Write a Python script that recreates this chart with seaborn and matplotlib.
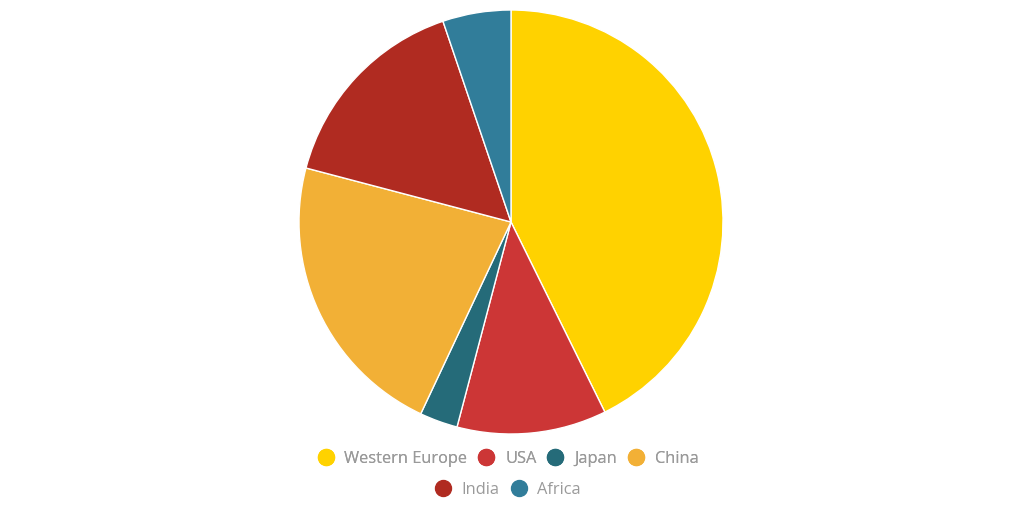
import matplotlib

matplotlib.use("Agg")
import matplotlib.pyplot as plt
import seaborn as sns
from matplotlib.lines import Line2D

regions = ["Western Europe", "USA", "Japan", "China", "India", "Africa"]
shares = [42.7, 11.4, 2.9, 22.1, 15.7, 5.2]
colors = ["#FFD200", "#CC3636", "#256B79", "#F2B036", "#B02B21", "#317D9A"]


def main() -> None:
    sns.set_theme(style="white")
    plt.rcParams["font.family"] = ["Open Sans", "DejaVu Sans"]

    fig = plt.figure(figsize=(10.24, 5.12), dpi=100)
    # pie centre ~ (511, 222) px, radius ~ 212 px
    ax = fig.add_axes([(511 - 212) / 1024, (290 - 212) / 512, 424 / 1024, 424 / 512])
    ax.pie(
        shares,
        colors=colors,
        startangle=90,
        counterclock=False,
        radius=1.0,
        wedgeprops={"edgecolor": "white", "linewidth": 1.0},
    )
    ax.set_xlim(-1.0, 1.0)
    ax.set_ylim(-1.0, 1.0)
    ax.set_aspect("equal")
    ax.axis("off")

    handles = [
        Line2D([0], [0], marker="o", linestyle="none", markersize=11.5,
               markerfacecolor=c, markeredgecolor=c)
        for c in colors
    ]
    legendStyle = dict(
        frameon=False,
        fontsize=11.8,
        labelcolor="#9a9a9a",
        handletextpad=0.55,
        columnspacing=0.55,
        handlelength=1.2,
        borderpad=0,
    )
    first = fig.legend(handles[:4], regions[:4], loc="center",
                       bbox_to_anchor=(507 / 1024, 1 - 459 / 512), ncol=4, **legendStyle)
    fig.add_artist(first)
    fig.legend(handles[4:], regions[4:], loc="center",
               bbox_to_anchor=(507 / 1024, 1 - 490 / 512), ncol=2, **legendStyle)

    fig.savefig("out.png", dpi=100)


if __name__ == "__main__":
    main()
